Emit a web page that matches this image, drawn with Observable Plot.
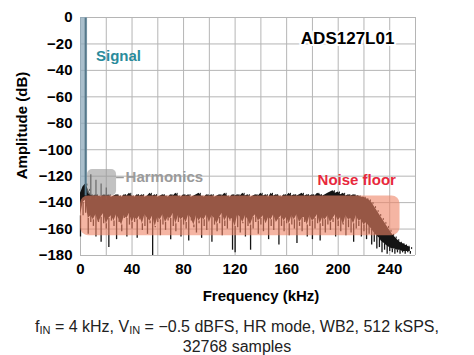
<!DOCTYPE html>
<html>
<head>
<meta charset="utf-8">
<script src="https://cdn.jsdelivr.net/npm/d3@7"></script>
<script src="https://cdn.jsdelivr.net/npm/@observablehq/plot@0.6"></script>
<style>
  html, body { margin: 0; padding: 0; background: #fff; }
  body { width: 474px; height: 355px; overflow: hidden; font-family: "Liberation Sans", Arial, sans-serif; }
  #chart svg { display: block; }
  #caption { text-align: center; font-size: 16px; line-height: 20px; color: #222; padding-top: 7px; }
  #caption sub { font-size: 11px; vertical-align: -2px; line-height: 0; }
</style>
</head>
<body>
<div id="chart"></div>
<div id="caption">f<sub>IN</sub> = 4 kHz, V<sub>IN</sub> = −0.5 dBFS, HR mode, WB2, 512 kSPS,<br>32768 samples</div>
<script>
// ---- data ----
const xTicks = [0, 40, 80, 120, 160, 200, 240];
const yTicks = [0, -20, -40, -60, -80, -100, -120, -140, -160, -180];
const gridX = [0, 20, 40, 60, 80, 100, 120, 140, 160, 180, 200, 220, 240, 260];
const gridY = yTicks;

// noise spectrum, sampled every 2 kHz (0..256 kHz)
const noiseFreq = d3.range(0, 257, 2);
// upper envelope (dB)
const noiseHigh = [
  -133,-128,-126,-130,-134,-135,-134,-135,-136,-134,-135,-134,-136,-135,-134,-135,
  -136,-134,-135,-133,-135,-136,-134,-135,-134,-136,-135,-133,-135,-134,-136,-135,
  -134,-135,-136,-134,-135,-133,-135,-136,-134,-135,-134,-136,-135,-134,-133,-135,
  -136,-134,-135,-134,-136,-135,-134,-135,-133,-135,-136,-134,-135,-134,-135,-133,
  -135,-134,-136,-135,-134,-135,-133,-135,-134,-136,-133,-135,-134,-135,-136,-134,
  -135,-133,-135,-134,-135,-134,-133,-135,-134,-135,-134,-135,-133,-134,-135,-134,
  -133,-132,-131,-133,-132,-134,-133,-135,-134,-135,-134,-135,-135,-136,-136,-137,
  -138,-140,-143,-146,-149,-152,-155,-158,-161,-164,-166,-168,-170,-171,-172,-173,
  -174
];
// lower edge of the dense part (dB)
const noiseBody = [
  -150,-140,-138,-152,-150,-153,-149,-155,-151,-148,-156,-152,-150,-154,-149,-153,
  -157,-150,-152,-148,-155,-151,-153,-150,-156,-149,-152,-154,-150,-158,-151,-153,
  -149,-155,-151,-152,-148,-156,-150,-153,-151,-155,-149,-152,-157,-150,-154,-151,
  -153,-149,-155,-150,-152,-156,-151,-148,-154,-150,-153,-152,-158,-149,-151,-155,
  -150,-153,-157,-151,-149,-154,-152,-150,-156,-151,-153,-149,-155,-152,-150,-154,
  -151,-156,-150,-153,-149,-155,-152,-151,-157,-150,-154,-152,-149,-156,-151,-153,
  -150,-155,-152,-149,-154,-151,-157,-150,-153,-152,-156,-150,-154,-153,-157,-155,
  -158,-160,-163,-165,-167,-170,-171,-173,-174,-175,-175,-176,-176,-177,-177,-177,
  -177
];
// deepest excursions (dB)
const noiseLow = [
  -166,-150,-148,-164,-155,-158,-166,-152,-170,-156,-160,-174,-154,-158,-168,-155,
  -162,-152,-166,-157,-160,-155,-167,-153,-161,-158,-164,-156,-180,-159,-155,-165,
  -157,-161,-154,-168,-158,-162,-155,-166,-157,-160,-169,-154,-159,-163,-156,-167,
  -158,-161,-155,-170,-157,-162,-156,-165,-158,-160,-154,-176,-178,-159,-163,-156,
  -166,-158,-176,-160,-155,-164,-157,-162,-156,-168,-158,-161,-155,-172,-158,-162,
  -156,-165,-157,-160,-171,-158,-162,-155,-166,-158,-168,-160,-156,-169,-158,-163,
  -157,-161,-155,-166,-158,-162,-156,-165,-159,-163,-170,-160,-158,-166,-162,-168,
  -164,-172,-170,-175,-174,-178,-176,-179,-177,-178,-179,-178,-179,-178,-179,-178,
  -179
];

// fundamental and harmonics
const signalFreq = 4;
const signalDb = -0.5;
const harmonicFreq = [8, 12, 16, 20];
const harmonicDb = [-119, -123, -126, -129];

// annotation regions
const regionName = ["Signal", "Harmonics", "Noise floor"];
const regionX1 = [0, 5.5, 0];
const regionX2 = [5.5, 28, 248];
const regionY1 = [-135, -135, -165];
const regionY2 = [0, -115, -135];

const labels = ["ADS127L01", "Signal", "Harmonics", "Noise floor"];
const labelX = [171, 12, 35, 184];
const labelY = [-16, -29.5, -121, -123];

// ---- build tables ----
const noise = noiseFreq.map((f, i) => ({f, hi: noiseHigh[i], body: noiseBody[i], lo: noiseLow[i]}));
const harmonics = harmonicFreq.map((f, i) => ({f, db: harmonicDb[i]}));
const regions = regionName.map((n, i) => ({n, x1: regionX1[i], x2: regionX2[i], y1: regionY1[i], y2: regionY2[i]}));
const ann = labels.map((t, i) => ({t, x: labelX[i], y: labelY[i]}));

const font = "Liberation Sans, Arial, sans-serif";
const colors = {"ADS127L01": "#000", "Signal": "#2a8b9b", "Harmonics": "#9a9a9a", "Noise floor": "#e8283c"};

const chart = Plot.plot({
  width: 474,
  height: 310,
  marginTop: 17,
  marginLeft: 80,
  marginRight: 59,
  marginBottom: 55,
  style: {fontFamily: font, fontSize: "15px", fontWeight: "bold", background: "#fff", color: "#000"},
  x: {domain: [0, 260], ticks: xTicks},
  y: {domain: [-180, 0], ticks: yTicks},
  marks: [
    Plot.ruleX(gridX, {stroke: "#b5b5b5", strokeWidth: 1}),
    Plot.ruleY(gridY, {stroke: "#b5b5b5", strokeWidth: 1}),
    // signal band
    Plot.rect(regions.filter(d => d.n === "Signal"), {x1: "x1", x2: "x2", y1: "y1", y2: "y2", fill: "#8eaabb", fillOpacity: 0.75}),
    // spectrum
    Plot.areaY(noise, {x: "f", y1: "body", y2: "hi", fill: "#141414", curve: "linear"}),
    Plot.ruleX(noise, {x: "f", y1: "body", y2: "lo", stroke: "#141414", strokeWidth: 1.3}),
    Plot.ruleX(noise, {x: d => d.f + 1, y1: "hi", y2: d => d.hi - 1.5, stroke: "#141414", strokeWidth: 1}),
    Plot.ruleX(harmonics, {x: "f", y1: -138, y2: "db", stroke: "#222", strokeWidth: 1.2}),
    Plot.ruleX([signalFreq], {y1: -135, y2: signalDb, stroke: "#56788a", strokeWidth: 2}),
    // harmonics box
    Plot.rect(regions.filter(d => d.n === "Harmonics"), {x1: "x1", x2: "x2", y1: "y1", y2: "y2", fill: "#9a9a9a", fillOpacity: 0.6, rx: 5}),
    Plot.ruleY([-121], {x1: 28, x2: 34, stroke: "#9a9a9a", strokeWidth: 1.5}),
    // noise floor box
    Plot.rect(regions.filter(d => d.n === "Noise floor"), {x1: "x1", x2: "x2", y1: "y1", y2: "y2", fill: "#ee8466", fillOpacity: 0.6, rx: 8}),
    // annotations
    Plot.text(ann.filter(d => d.t === "ADS127L01"), {x: "x", y: "y", text: "t", textAnchor: "start", fill: "#000",
      fontSize: 17, fontWeight: "bold", stroke: "#fff", strokeWidth: 4}),
    Plot.text(ann.filter(d => d.t !== "ADS127L01"), {x: "x", y: "y", text: "t", textAnchor: "start", fill: d => colors[d.t],
      fontSize: 15, fontWeight: "bold"}),
    Plot.axisX({ticks: xTicks, tickSize: 0, tickPadding: 8, label: null, fontSize: 15}),
    Plot.axisY({ticks: yTicks, tickSize: 0, tickPadding: 8, label: null, fontSize: 15}),
    Plot.text(["Frequency (kHz)"], {frameAnchor: "bottom", dx: 13, dy: 45, fontSize: 15, fontWeight: "bold", fill: "#000"}),
    Plot.text(["Amplitude (dB)"], {frameAnchor: "left", textAnchor: "middle", rotate: -90, dx: -58, dy: -11, fontSize: 15, fontWeight: "bold", fill: "#000"})
  ]
});
document.getElementById("chart").append(chart);
</script>
</body>
</html>
